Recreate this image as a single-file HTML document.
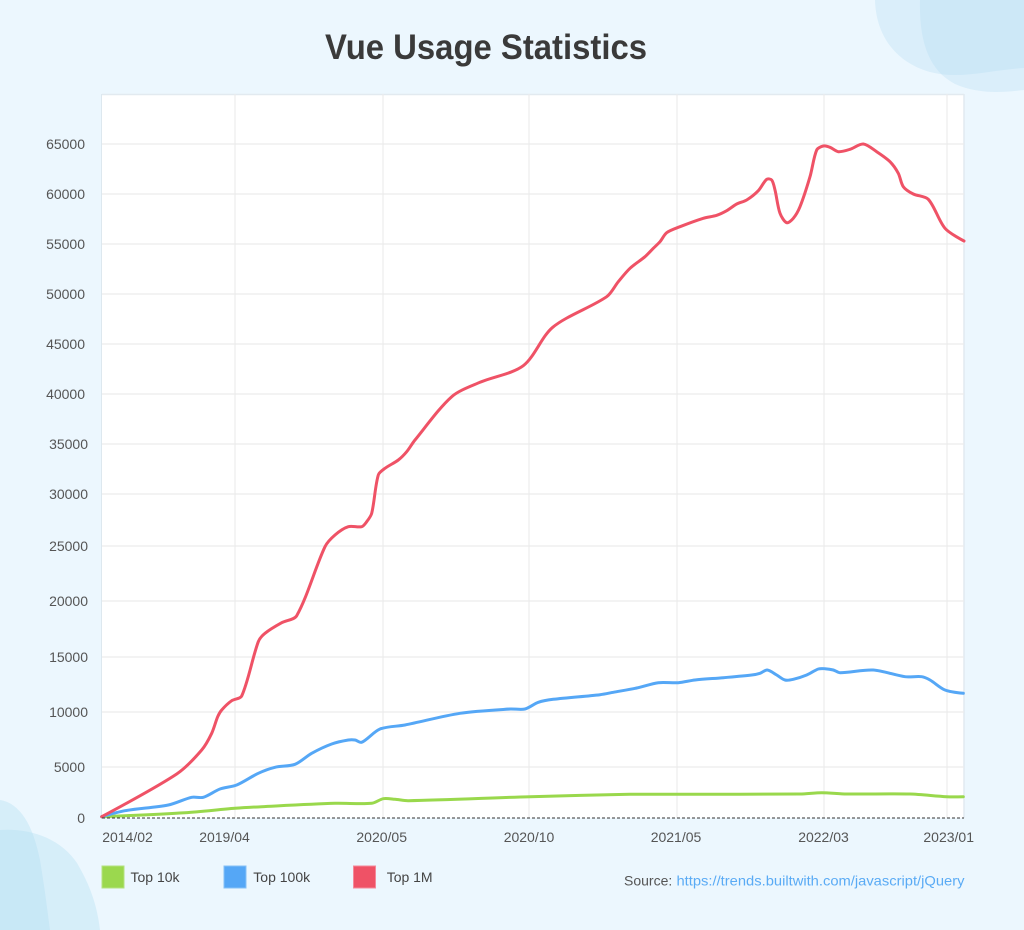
<!DOCTYPE html>
<html>
<head>
<meta charset="utf-8">
<style>
  html, body { margin: 0; padding: 0; background: #ecf7fe; }
  body { width: 1024px; height: 930px; overflow: hidden; }
  svg { display: block; }
  text { font-family: "Liberation Sans", Arial, sans-serif; }
</style>
</head>
<body>
<svg id="chart" width="1024" height="930" viewBox="0 0 1024 930" xmlns="http://www.w3.org/2000/svg">
  <!-- background -->
  <rect x="0" y="0" width="1024" height="930" fill="#ecf7fe"/>
  <!-- decorative blobs top-right -->
  <path d="M875,0 C876,35 895,62 930,72 C960,80 990,70 1024,68 L1024,0 Z" fill="#b0dcf2" fill-opacity="0.3"/>
  <path d="M920,0 C919,40 928,70 955,84 C980,95 1005,92 1024,90 L1024,0 Z" fill="#b0dcf2" fill-opacity="0.3"/>
  <!-- decorative blobs bottom-left -->
  <path d="M0,800 C20,803 33,825 40,860 C45,890 48,915 50,930 L0,930 Z" fill="#b0dcf2" fill-opacity="0.35"/>
  <path d="M0,830 C30,828 60,838 77,863 C90,885 97,905 100,930 L0,930 Z" fill="#b0dcf2" fill-opacity="0.35"/>

  <!-- title -->
  <text x="325" y="59" font-size="35" font-weight="bold" fill="#3a3a3a" textLength="322" lengthAdjust="spacingAndGlyphs">Vue Usage Statistics</text>

  <!-- plot area -->
  <rect x="102" y="94" width="862" height="724" fill="#ffffff"/>
  <line x1="101.5" y1="94" x2="101.5" y2="818" stroke="#dde8ef" stroke-width="1"/>
  <line x1="102" y1="94.5" x2="964" y2="94.5" stroke="#e2eaf0" stroke-width="1.5"/>
  <line x1="964" y1="94" x2="964" y2="818" stroke="#e2eaf0" stroke-width="1.5"/>

  <!-- horizontal gridlines -->
  <g stroke="#ececec" stroke-width="1.2">
    <line x1="102" y1="144" x2="964" y2="144"/>
    <line x1="102" y1="194" x2="964" y2="194"/>
    <line x1="102" y1="244" x2="964" y2="244"/>
    <line x1="102" y1="294" x2="964" y2="294"/>
    <line x1="102" y1="344" x2="964" y2="344"/>
    <line x1="102" y1="394" x2="964" y2="394"/>
    <line x1="102" y1="444" x2="964" y2="444"/>
    <line x1="102" y1="494" x2="964" y2="494"/>
    <line x1="102" y1="546" x2="964" y2="546"/>
    <line x1="102" y1="601" x2="964" y2="601"/>
    <line x1="102" y1="657" x2="964" y2="657"/>
    <line x1="102" y1="712" x2="964" y2="712"/>
    <line x1="102" y1="767" x2="964" y2="767"/>
  </g>
  <!-- vertical gridlines -->
  <g stroke="#ececec" stroke-width="1.2">
    <line x1="235" y1="94" x2="235" y2="818"/>
    <line x1="383" y1="94" x2="383" y2="818"/>
    <line x1="529" y1="94" x2="529" y2="818"/>
    <line x1="677" y1="94" x2="677" y2="818"/>
    <line x1="824" y1="94" x2="824" y2="818"/>
    <line x1="947" y1="94" x2="947" y2="818"/>
  </g>

  <!-- y labels -->
  <g font-size="14" fill="#555555" text-anchor="end">
    <text x="85" y="149">65000</text>
    <text x="85" y="199">60000</text>
    <text x="85" y="249">55000</text>
    <text x="85" y="299">50000</text>
    <text x="85" y="349">45000</text>
    <text x="85" y="399">40000</text>
    <text x="88" y="449">35000</text>
    <text x="88" y="499">30000</text>
    <text x="88" y="551">25000</text>
    <text x="88" y="606">20000</text>
    <text x="88" y="662">15000</text>
    <text x="88" y="717">10000</text>
    <text x="85" y="772">5000</text>
    <text x="85" y="823">0</text>
  </g>

  <!-- x labels -->
  <g font-size="14" fill="#555555" text-anchor="middle">
    <text x="127.5" y="842">2014/02</text>
    <text x="224.5" y="842">2019/04</text>
    <text x="381.7" y="842">2020/05</text>
    <text x="529" y="842">2020/10</text>
    <text x="676" y="842">2021/05</text>
    <text x="823.5" y="842">2022/03</text>
    <text x="948.7" y="842">2023/01</text>
  </g>

  <!-- series -->
  <g id="series" fill="none" stroke-width="3" stroke-linejoin="round" stroke-linecap="round">
    <polyline stroke="#99d84c" points="101.7,816.7 185,812.7 235,808.3 261.7,806.7 335,803.3 371.7,803.3 383.3,798.7 395,799.3 408.3,800.7 530,796.7 630,794.3 680,794.3 800,794 821.7,792.7 846.7,794 910,794 946.7,796.7 963.3,796.7"/>
    <polyline stroke="#55a7f6" points="101.7,816.7 125,810.7 168.3,805 191.7,797.3 203.3,797.3 220,789 236.7,785 258.3,773.3 275,767.3 295,764.3 311.7,753.3 331.7,744 348.3,740 355,740 361.7,742.3 380,729 405,725 460,713.3 510,709 525,709 538.3,702.3 553.3,699.3 600,694.7 613.3,692.3 636.7,688 658.3,682.7 678.3,682.7 695,680 723.3,677.7 751.7,675 760,673.3 767.3,670 776.7,675 785,680 793.3,679.3 806.7,675 818.3,669 825,668.7 833.3,670 840,672.7 873.3,670 905,676.7 921.7,676.7 930,680 945,690 963.3,693.3"/>
    <polyline stroke="#ef5266" points="101.7,816.7 176.7,774 201.7,750 211.7,733.3 217.7,716.7 221.7,710 231.7,700.7 241.7,696 258.3,641.7 265,633.3 281.7,622.7 296.7,615.7 325,546.7 335,535 348.3,526.7 361.7,526.7 366.7,521.7 371.7,513.3 378.3,475 385,468.3 398.3,460 406.7,451.7 415,440 451.7,396.7 480,382.3 523.3,365.7 552.7,327.3 606.7,296.7 618.3,281.7 630,268.3 645,256.7 653.3,248.3 660,241.7 666.7,232.7 680,226.7 703.3,218.3 716.7,215.3 726.7,210.7 736.7,204 746.7,200 758.3,190.7 766.7,179.3 771.7,180 775,190 780,213.3 786.7,222.7 793.3,218.3 800,206.7 810,176.7 816.7,150 823.3,146 830,147.3 838.3,151.7 850,149.3 863.3,144 876.7,151.7 890,161.7 898.3,173.3 903.3,186.7 913.3,194 928.3,199.3 945,228.3 964,241"/>
  </g>

  <!-- zero dashed line -->
  <line x1="102" y1="818" x2="964" y2="818" stroke="#333333" stroke-width="1" stroke-dasharray="3,2"/>

  <!-- legend -->
  <rect x="102" y="866" width="22" height="22" fill="#9bd84e" stroke="#b5e280" stroke-width="1"/>
  <text x="130.5" y="882" font-size="14" fill="#444444">Top 10k</text>
  <rect x="224" y="866" width="22" height="22" fill="#55a7f6" stroke="#86c0f6" stroke-width="1"/>
  <text x="253.3" y="882" font-size="14" fill="#444444">Top 100k</text>
  <rect x="353.5" y="866" width="22" height="22" fill="#ef5266" stroke="#f4899a" stroke-width="1"/>
  <text x="386.7" y="882" font-size="14" fill="#444444">Top 1M</text>

  <!-- source -->
  <text x="624" y="885.5" font-size="14" fill="#555555">Source:</text>
  <text x="676.5" y="885.5" font-size="14" fill="#5aabf5" textLength="288" lengthAdjust="spacingAndGlyphs">https://trends.builtwith.com/javascript/jQuery</text>
</svg>
<script>
(function(){
  var NS = "http://www.w3.org/2000/svg";
  var t = 0.3;
  var g = document.getElementById("series");
  var lines = Array.prototype.slice.call(g.querySelectorAll("polyline"));
  lines.forEach(function(pl){
    var pts = pl.getAttribute("points").trim().split(/\s+/).map(function(s){
      var a = s.split(","); return [parseFloat(a[0]), parseFloat(a[1])];
    });
    var n = pts.length, cpIn = [], cpOut = [];
    for (var i = 0; i < n; i++) {
      var cur = pts[i];
      if (i === 0 || i === n - 1) { cpIn[i] = cur; cpOut[i] = cur; continue; }
      var p = pts[i-1], q = pts[i+1];
      var d01 = Math.hypot(cur[0]-p[0], cur[1]-p[1]);
      var d12 = Math.hypot(q[0]-cur[0], q[1]-cur[1]);
      var s01 = d01/(d01+d12 || 1), s12 = d12/(d01+d12 || 1);
      var fa = t*s01, fb = t*s12;
      cpIn[i] = [cur[0]-fa*(q[0]-p[0]), cur[1]-fa*(q[1]-p[1])];
      cpOut[i] = [cur[0]+fb*(q[0]-p[0]), cur[1]+fb*(q[1]-p[1])];
    }
    var d = "M" + pts[0][0] + "," + pts[0][1];
    for (var j = 1; j < n; j++) {
      d += " C" + cpOut[j-1][0].toFixed(2) + "," + cpOut[j-1][1].toFixed(2) + " " +
           cpIn[j][0].toFixed(2) + "," + cpIn[j][1].toFixed(2) + " " +
           pts[j][0] + "," + pts[j][1];
    }
    var path = document.createElementNS(NS, "path");
    path.setAttribute("d", d);
    path.setAttribute("stroke", pl.getAttribute("stroke"));
    g.replaceChild(path, pl);
  });
})();
</script>
</body>
</html>
